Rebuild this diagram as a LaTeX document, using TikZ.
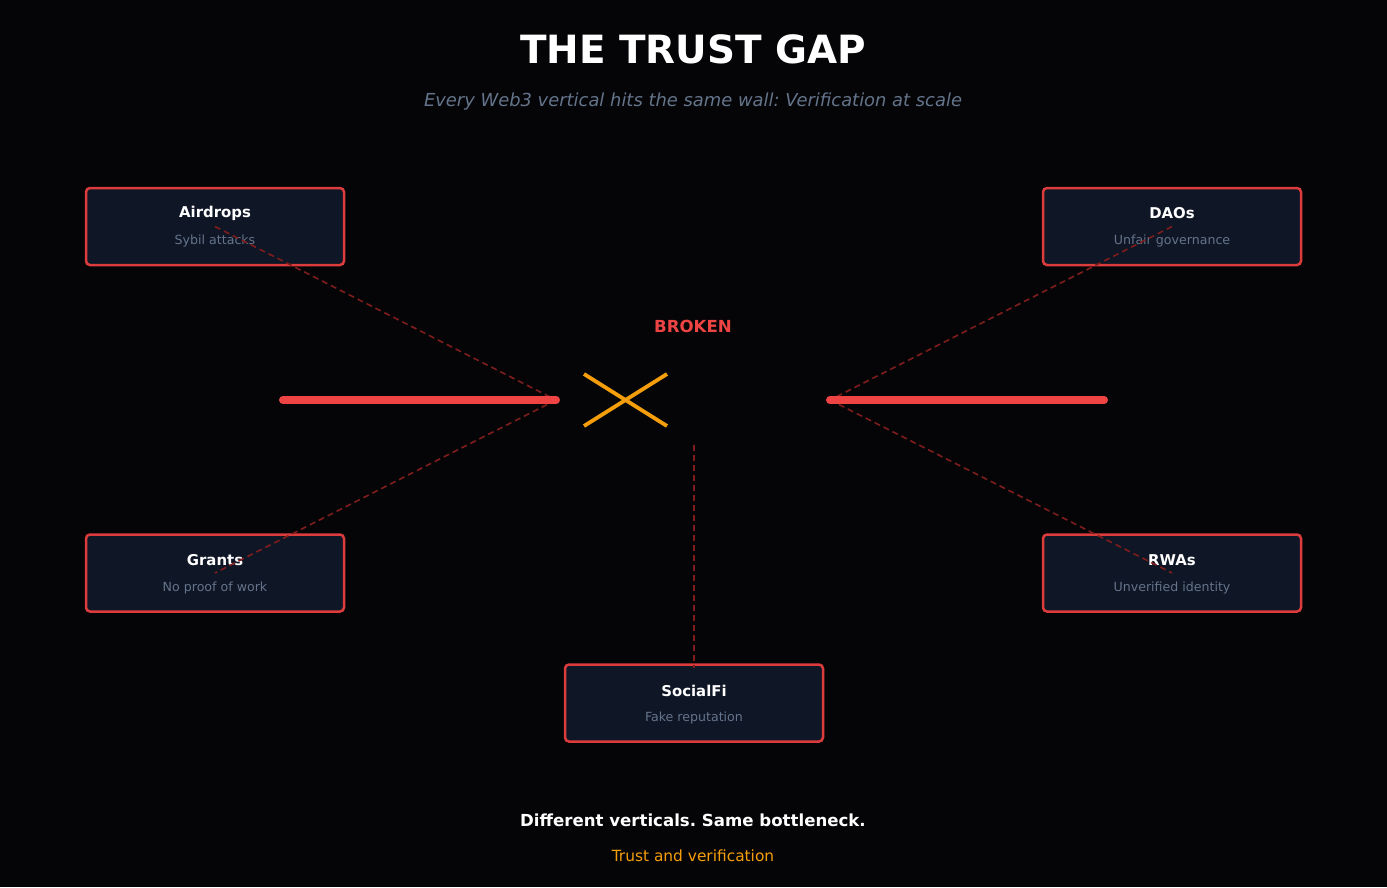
\documentclass[tikz,border=0pt]{standalone}
\usepackage{fontspec}
\setmainfont{DejaVu Sans}
\frenchspacing
\definecolor{bg}{HTML}{050507}
\definecolor{boxfill}{HTML}{0F1626}
\definecolor{boxline}{HTML}{DC3C3C}
\definecolor{redbar}{HTML}{EF4444}
\definecolor{dashred}{HTML}{7F1D1D}
\definecolor{slate}{HTML}{64748B}
\definecolor{amber}{HTML}{F59E0B}
\tikzset{
  vbox/.style={draw=boxline, line width=2.5pt, fill=boxfill, rounded corners=4pt,
    minimum width=258pt, minimum height=77pt, inner sep=0pt},
  vtitle/.style={text=white, font=\fontsize{14.9}{16}\selectfont\bfseries, inner sep=0pt},
  vsub/.style={text=slate, font=\fontsize{12.6}{14}\selectfont, inner sep=0pt},
  link/.style={draw=dashred, line width=1.6pt, dash pattern=on 6pt off 4pt},
  bar/.style={draw=redbar, line width=8pt, line cap=round},
  cross/.style={draw=amber, line width=3.8pt}
}
\begin{document}
\begin{tikzpicture}[x=1pt,y=-1pt]
\fill[bg] (0,0) rectangle (1387,887);
\useasboundingbox (0,0) rectangle (1387,887);

% titles
\node[text=white, font=\fontsize{38.9}{44}\selectfont\bfseries, inner sep=0pt] (title) at (693,49.5) {THE TRUST GAP};
\node[text=slate, font=\fontsize{17.9}{20}\selectfont\itshape, inner sep=0pt] (subtitle) at (693,101.5) {Every Web3 vertical hits the same wall: Verification at scale};

% boxes
\node[vbox] (air) at (215,226.5) {};
\node[vbox] (dao) at (1172,226.5) {};
\node[vbox] (gra) at (215,573) {};
\node[vbox] (rwa) at (1172,573) {};
\node[vbox] (soc) at (694,703) {};

\node[vtitle] (airT) at (215,213.5) {Airdrops};
\node[vsub] (airS) at (215,241) {Sybil attacks};
\node[vtitle] (daoT) at (1172,213.5) {DAOs};
\node[vsub] (daoS) at (1172,241) {Unfair governance};
\node[vtitle] (graT) at (215,560.5) {Grants};
\node[vsub] (graS) at (215,588) {No proof of work};
\node[vtitle] (rwaT) at (1172,560.5) {RWAs};
\node[vsub] (rwaS) at (1172,588) {Unverified identity};
\node[vtitle] (socT) at (694,690.5) {SocialFi};
\node[vsub] (socS) at (694,718) {Fake reputation};

% gap ends
\coordinate (lA) at (283,400);
\coordinate (lB) at (556,400);
\coordinate (rA) at (830,400);
\coordinate (rB) at (1104,400);
\coordinate (sTop) at (694,445);
\coordinate (sBot) at (694,668);

% dashed connectors
\draw[link] (air.center) -- (lB);
\draw[link] (lB) -- (gra.center);
\draw[link] (dao.center) -- (rA);
\draw[link] (rA) -- (rwa.center);
\draw[link] (sTop) -- (sBot);

% bars
\draw[bar] (lA) -- (lB);
\draw[bar] (rA) -- (rB);

% cross
\coordinate (x1) at (584,374);
\coordinate (x2) at (667,426);
\coordinate (x3) at (584,426);
\coordinate (x4) at (667,374);
\draw[cross] (x1) -- (x2);
\draw[cross] (x3) -- (x4);

\node[text=redbar, font=\fontsize{16.6}{18}\selectfont\bfseries, inner sep=0pt] (broken) at (693,326) {BROKEN};

% footer
\node[text=white, font=\fontsize{16.6}{18}\selectfont\bfseries, inner sep=0pt] (foot1) at (693,820) {Different verticals. Same bottleneck.};
\node[text=amber, font=\fontsize{15.4}{17}\selectfont, inner sep=0pt] (foot2) at (693,856) {Trust and verification};
\end{tikzpicture}
\end{document}
